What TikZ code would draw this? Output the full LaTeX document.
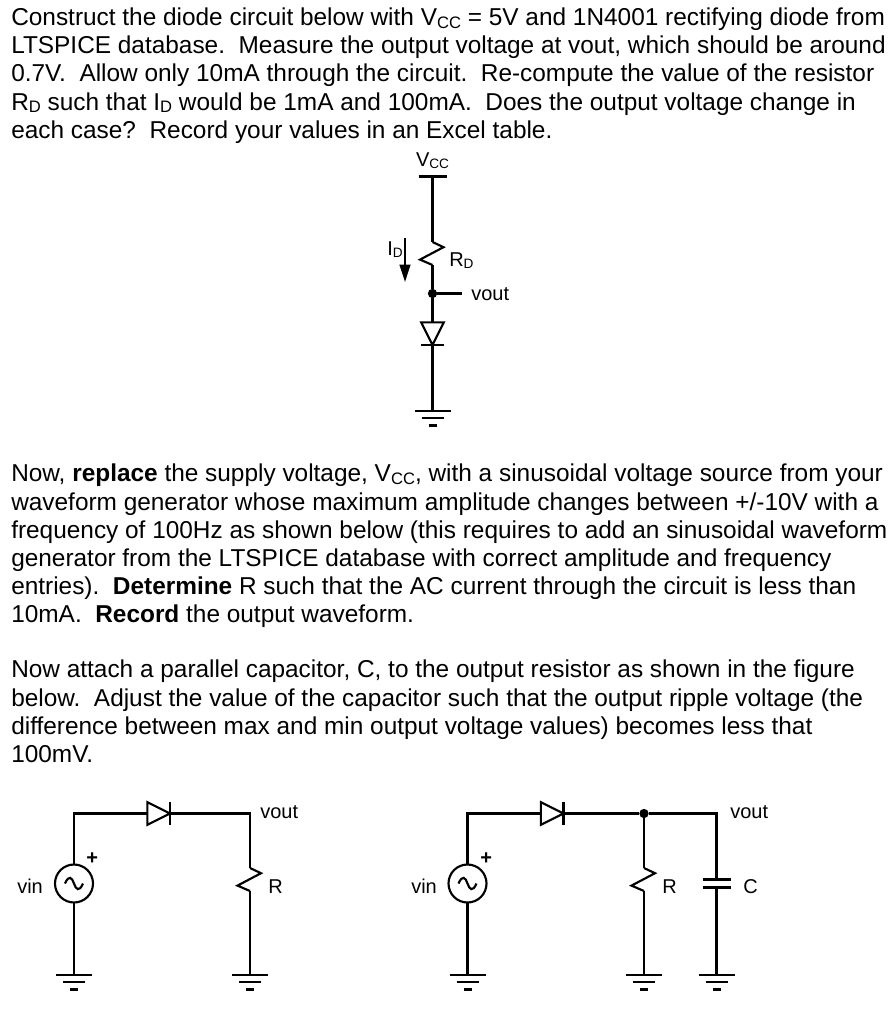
\documentclass[tikz,border=0pt]{standalone}
\usepackage{graphicx}
\usepackage{fontspec}
\setmainfont{Liberation Sans}
\usetikzlibrary{arrows.meta, shapes.geometric}

\newcommand{\lowcaps}[1]{\raisebox{-.2ex}{\scalebox{.68}{#1}}}
\newcommand{\gndsym}[1]{
  \draw[wire] ([xshift=-13.5pt]#1) -- ([xshift=13.5pt]#1);
  \draw[wire] ([shift={(-11,7)}]#1) -- ([shift={(11,7)}]#1);
  \draw[wire] ([shift={(-4,14.5)}]#1) -- ([shift={(4,14.5)}]#1);
}
\newcommand{\zigzag}[1]{
  \draw[wire] (#1) -- ++(11,5.2) -- ++(-23.5,12.4) -- ++(12.5,5.4);
}
\newcommand{\srcwave}[1]{
  \draw[wire, shift={(#1.center)}] (-9,0) .. controls (-5,-9) and (-2,-6) .. (0,0)
    .. controls (2,6) and (5,9) .. (9,0);
}

\tikzset{
  wire/.style={line width=1.6pt},
  para/.style={anchor=north west, inner sep=0pt, align=left, font=\fontsize{18.3}{21.15}\selectfont\frenchspacing},
  lbl/.style={anchor=west, inner sep=0pt, yshift=-.6pt, font=\fontsize{15}{18}\selectfont},
  diodetri/.style={draw, wire, isosceles triangle, isosceles triangle stretches, inner sep=0pt,
    outer sep=0pt, minimum width=17pt, minimum height=17pt, anchor=apex},
  srcnode/.style={draw, wire, circle, inner sep=0pt, outer sep=0pt, minimum size=28.5pt},
  dotnode/.style={fill, circle, inner sep=0pt, minimum size=7pt},
}

\begin{document}
\begin{tikzpicture}[x=.75pt, y=-.75pt]
  \useasboundingbox (0,0) rectangle (895,1024);

  % text
  \node[para] (intro) at (11,7.5) {Construct the diode circuit below with V\lowcaps{CC} = 5V and 1N4001 rectifying diode from\\
    LTSPICE database.~ Measure the output voltage at vout, which should be around\\
    0.7V.~ Allow only 10mA through the circuit.~ Re-compute the value of the resistor\\
    R\lowcaps{D} such that I\lowcaps{D} would be 1mA and 100mA.~ Does the output voltage change in\\
    each case?~ Record your values in an Excel table.};
  \node[para] (replace) at (11,464) {Now, \textbf{replace} the supply voltage, V\lowcaps{CC}, with a sinusoidal voltage source from your\\
    waveform generator whose maximum amplitude changes between +/-10V with a\\
    frequency of 100Hz as shown below (this requires to add an sinusoidal waveform\\
    generator from the LTSPICE database with correct amplitude and frequency\\
    entries).~ \textbf{Determine} R such that the AC current through the circuit is less than\\
    10mA.~ \textbf{Record} the output waveform.};
  \node[para] (attach) at (11,660) {Now attach a parallel capacitor, C, to the output resistor as shown in the figure\\
    below.~ Adjust the value of the capacitor such that the output ripple voltage (the\\
    difference between max and min output voltage values) becomes less that\\
    100mV.};

  % top circuit
  \coordinate (vcc) at (432.5,176.5);
  \coordinate (r1top) at (432.5,242);
  \coordinate (r1bot) at (432.5,265);
  \coordinate (gnd1) at (432.5,411);
  \coordinate (vout1) at (462,293.5);
  \node[dotnode] (n1) at (432.5,293.5) {};
  \node[diodetri, shape border rotate=-90] (d1) at (432.5,345) {};
  \node[lbl, anchor=center] (vcclbl) at (432.5,160) {V\lowcaps{CC}};
  \node[lbl] (idlbl) at (387,249) {I\lowcaps{D}};
  \node[lbl] (rdlbl) at (449,260) {R\lowcaps{D}};
  \node[lbl] (voutlbl1) at (471,293) {vout};
  \coordinate (idtop) at (405,238);
  \coordinate (idbot) at (405,282);

  \draw[wire] ([xshift=-10.5pt]vcc) -- ([xshift=10.5pt]vcc);
  \draw[wire] (vcc) -- (r1top);
  \zigzag{r1top}
  \draw[wire] (r1bot) -- (n1);
  \draw[wire] (n1) -- (vout1);
  \draw[wire] (n1) -- (d1.lower side);
  \draw[wire] ([xshift=-8.5pt]d1.apex) -- ([xshift=8.5pt]d1.apex);
  \draw[wire] (d1.apex) -- (gnd1);
  \gndsym{gnd1}
  \draw[wire, -{Triangle[length=13pt, width=8pt]}] (idtop) -- (idbot);

  % bottom left circuit
  \node[srcnode] (src1) at (74,883.5) {};
  \srcwave{src1}
  \node[diodetri] (d2) at (170,813.5) {};
  \coordinate (r2top) at (250,868);
  \coordinate (r2bot) at (250,891);
  \coordinate (gnd2) at (74,975);
  \coordinate (gnd3) at (250,975);
  \node[lbl] (vinlbl1) at (17,885) {vin};
  \node[lbl, font=\fontsize{15}{18}\bfseries] (plus1) at (86,857.5) {+};
  \node[lbl] (voutlbl2) at (260,811.5) {vout};
  \node[lbl] (rlbl1) at (268,886) {R};

  \draw[wire] (src1.north) |- (d2.lower side);
  \draw[wire] ([yshift=-8.5pt]d2.apex) -- ([yshift=8.5pt]d2.apex);
  \draw[wire] (d2.apex) -| (r2top);
  \zigzag{r2top}
  \draw[wire] (r2bot) -- (gnd3);
  \draw[wire] (src1.south) -- (gnd2);
  \gndsym{gnd2}
  \gndsym{gnd3}

  % bottom right circuit
  \node[srcnode] (src2) at (467.5,883.5) {};
  \srcwave{src2}
  \node[diodetri] (d3) at (563.5,813.5) {};
  \node[dotnode] (n2) at (644,813.5) {};
  \coordinate (r3top) at (644,868);
  \coordinate (r3bot) at (644,891);
  \coordinate (c1top) at (716.5,879.5);
  \coordinate (c1bot) at (716.5,887.5);
  \coordinate (gnd4) at (467.5,975);
  \coordinate (gnd5) at (644,975);
  \coordinate (gnd6) at (716.5,975);
  \node[lbl] (vinlbl2) at (411,885) {vin};
  \node[lbl, font=\fontsize{15}{18}\bfseries] (plus2) at (480,857.5) {+};
  \node[lbl] (voutlbl3) at (730,811.5) {vout};
  \node[lbl] (rlbl2) at (662,886) {R};
  \node[lbl] (clbl) at (743,885.5) {C};

  \draw[wire] (src2.north) |- (d3.lower side);
  \draw[wire] ([yshift=-8.5pt]d3.apex) -- ([yshift=8.5pt]d3.apex);
  \draw[wire] (d3.apex) -- (n2);
  \draw[wire] (n2) -- (r3top);
  \zigzag{r3top}
  \draw[wire] (r3bot) -- (gnd5);
  \draw[wire] (n2) -| (c1top);
  \draw[wire] ([xshift=-10.5pt]c1top) -- ([xshift=10.5pt]c1top);
  \draw[wire] ([xshift=-10.5pt]c1bot) -- ([xshift=10.5pt]c1bot);
  \draw[wire] (c1bot) -- (gnd6);
  \draw[wire] (src2.south) -- (gnd4);
  \gndsym{gnd4}
  \gndsym{gnd5}
  \gndsym{gnd6}
\end{tikzpicture}
\end{document}
